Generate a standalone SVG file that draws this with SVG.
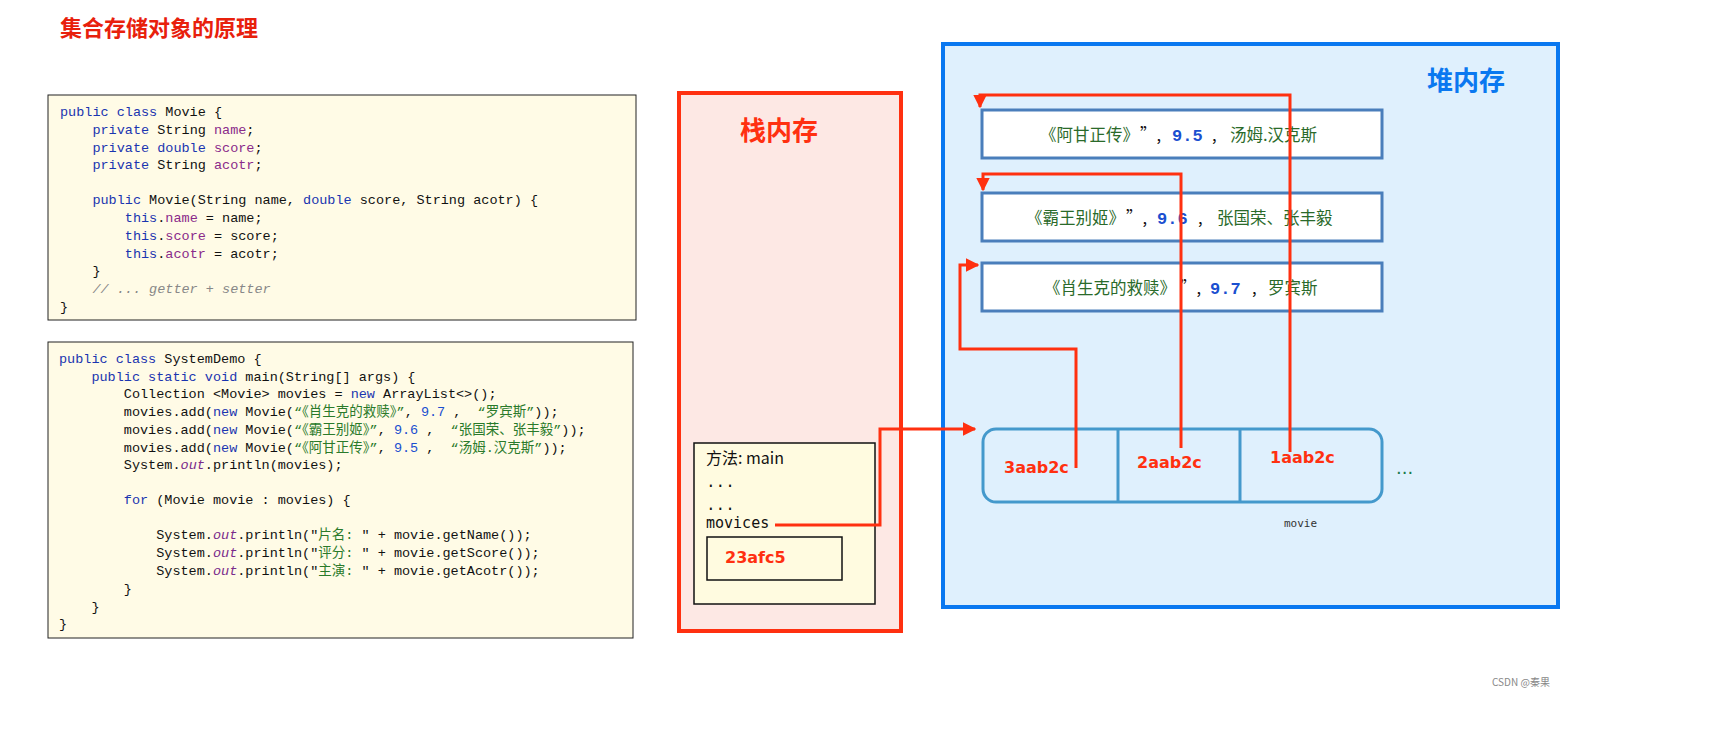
<svg xmlns="http://www.w3.org/2000/svg" width="1714" height="731" viewBox="0 0 1714 731">
<style>
.code{font-family:"Liberation Mono","Noto Sans CJK SC",monospace;font-size:13.5px;fill:#111;white-space:pre}
.k{fill:#1a35b0}.f{fill:#8a2a8a}.c{fill:#888;font-style:italic}.s{fill:#2a7a2a}.n{fill:#1a4fd0}.i{fill:#7a2a8a;font-style:italic}
.heap{fill:#fff;stroke:#4a7ebb;stroke-width:3}
.ht{font-family:"Noto Sans CJK SC",sans-serif;font-size:16.5px;fill:#2a6a2a}
.hn{font-family:"Liberation Mono",monospace;font-weight:bold;font-size:17px;fill:#1a4fd0}
.hp{fill:#111}
.addr{font-family:"DejaVu Sans",sans-serif;font-weight:bold;font-size:16px;fill:#ff3010}
.red{fill:none;stroke:#ff3010;stroke-width:3}
</style>
<defs><marker id="ah" viewBox="0 0 10 10" refX="9" refY="5" markerWidth="4.5" markerHeight="4.5" orient="auto"><path d="M0,0L10,5L0,10z" fill="#ff3010"/></marker></defs>
<rect width="1714" height="731" fill="#fff"/>
<text x="60" y="36" font-family="Noto Sans CJK SC,sans-serif" font-weight="bold" font-size="22" fill="#e8200c">集合存储对象的原理</text>
<g id="code1">
<rect x="48" y="95" width="588" height="225" fill="#fffbe6" stroke="#222" stroke-width="1"/>
<text class="code" x="60" y="116"><tspan class="k">public class</tspan> Movie {</text>
<text class="code" x="60" y="134">    <tspan class="k">private</tspan> String <tspan class="f">name</tspan>;</text>
<text class="code" x="60" y="152">    <tspan class="k">private double</tspan> <tspan class="f">score</tspan>;</text>
<text class="code" x="60" y="169">    <tspan class="k">private</tspan> String <tspan class="f">acotr</tspan>;</text>
<text class="code" x="60" y="204">    <tspan class="k">public</tspan> Movie(String name, <tspan class="k">double</tspan> score, String acotr) {</text>
<text class="code" x="60" y="222">        <tspan class="k">this</tspan>.<tspan class="f">name</tspan> = name;</text>
<text class="code" x="60" y="240">        <tspan class="k">this</tspan>.<tspan class="f">score</tspan> = score;</text>
<text class="code" x="60" y="258">        <tspan class="k">this</tspan>.<tspan class="f">acotr</tspan> = acotr;</text>
<text class="code" x="60" y="275">    }</text>
<text class="code c" x="60" y="293">    // ... getter + setter</text>
<text class="code" x="60" y="311">}</text>
</g>
<g id="code2">
<rect x="48" y="342" width="585" height="296" fill="#fffbe6" stroke="#222" stroke-width="1"/>
<text class="code" x="59" y="363"><tspan class="k">public class</tspan> SystemDemo {</text>
<text class="code" x="59" y="381">    <tspan class="k">public static void</tspan> main(String[] args) {</text>
<text class="code" x="59" y="398">        Collection &lt;Movie&gt; movies = <tspan class="k">new</tspan> ArrayList&lt;&gt;();</text>
<text class="code" x="59" y="416">        movies.add(<tspan class="k">new</tspan> Movie(<tspan class="s">“《肖生克的救赎》”</tspan>, <tspan class="n">9.7</tspan> ,  <tspan class="s">“罗宾斯”</tspan>));</text>
<text class="code" x="59" y="434">        movies.add(<tspan class="k">new</tspan> Movie(<tspan class="s">“《霸王别姬》”</tspan>, <tspan class="n">9.6</tspan> ,  <tspan class="s">“张国荣、张丰毅”</tspan>));</text>
<text class="code" x="59" y="452">        movies.add(<tspan class="k">new</tspan> Movie(<tspan class="s">“《阿甘正传》”</tspan>, <tspan class="n">9.5</tspan> ,  <tspan class="s">“汤姆.汉克斯”</tspan>));</text>
<text class="code" x="59" y="469">        System.<tspan class="i">out</tspan>.println(movies);</text>
<text class="code" x="59" y="504">        <tspan class="k">for</tspan> (Movie movie : movies) {</text>
<text class="code" x="59" y="539">            System.<tspan class="i">out</tspan>.println("<tspan class="s">片名:</tspan> " + movie.getName());</text>
<text class="code" x="59" y="557">            System.<tspan class="i">out</tspan>.println("<tspan class="s">评分:</tspan> " + movie.getScore());</text>
<text class="code" x="59" y="575">            System.<tspan class="i">out</tspan>.println("<tspan class="s">主演:</tspan> " + movie.getAcotr());</text>
<text class="code" x="59" y="593">        }</text>
<text class="code" x="59" y="611">    }</text>
<text class="code" x="59" y="628">}</text>
</g>
<g id="stack">
<rect x="679" y="93" width="222" height="538" fill="#fde8e4" stroke="#ff3010" stroke-width="4"/>
<text x="740" y="140" font-family="Noto Sans CJK SC,sans-serif" font-weight="bold" font-size="26" fill="#ff3010">栈内存</text>
<rect x="694" y="443" width="181" height="161" fill="#fffbe0" stroke="#111" stroke-width="1.5"/>
<text x="706" y="464" font-family="Noto Sans CJK SC,sans-serif" font-size="16" fill="#111">方法: main</text>
<text x="706" y="487" font-family="Liberation Mono,monospace" font-size="16" fill="#111">...</text>
<text x="706" y="510" font-family="Liberation Mono,monospace" font-size="16" fill="#111">...</text>
<text x="706" y="528" font-family="DejaVu Sans Mono,monospace" font-size="15" fill="#111">movices</text>
<rect x="707" y="537" width="135" height="43" fill="none" stroke="#111" stroke-width="1.5"/>
<text class="addr" x="725" y="563">23afc5</text>
</g>
<g id="heap">
<rect x="943" y="44" width="615" height="563" fill="#dff0fd" stroke="#0a78f0" stroke-width="4"/>
<text x="1427" y="90" font-family="Noto Sans CJK SC,sans-serif" font-weight="bold" font-size="26" fill="#0a78f0">堆内存</text>
<rect class="heap" x="982" y="110" width="400" height="48"/>
<text class="ht" y="141"><tspan x="1040">《阿甘正传》</tspan><tspan x="1140" class="hp">”,</tspan><tspan x="1172" class="hn">9.5</tspan><tspan x="1212" class="hp">,</tspan><tspan x="1230">汤姆.汉克斯</tspan></text>
<rect class="heap" x="982" y="193" width="400" height="48"/>
<text class="ht" y="224"><tspan x="1026">《霸王别姬》</tspan><tspan x="1126" class="hp">”,</tspan><tspan x="1157" class="hn">9.6</tspan><tspan x="1198" class="hp">,</tspan><tspan x="1217">张国荣、张丰毅</tspan></text>
<rect class="heap" x="982" y="263" width="400" height="48"/>
<text class="ht" y="294"><tspan x="1044">《肖生克的救赎》</tspan><tspan x="1180" class="hp">”,</tspan><tspan x="1210" class="hn">9.7</tspan><tspan x="1252" class="hp">,</tspan><tspan x="1268">罗宾斯</tspan></text>
</g>
<g id="array">
<rect x="983" y="429" width="399" height="73" rx="13" fill="#dff0fd" stroke="#4499cc" stroke-width="3"/>
<line x1="1118" y1="429" x2="1118" y2="502" stroke="#4499cc" stroke-width="3"/>
<line x1="1240" y1="429" x2="1240" y2="502" stroke="#4499cc" stroke-width="3"/>
<text class="addr" x="1004" y="473">3aab2c</text>
<text class="addr" x="1137" y="468">2aab2c</text>
<text class="addr" x="1270" y="463">1aab2c</text>
<text x="1396" y="474" font-family="DejaVu Sans,sans-serif" font-size="18" fill="#1a7a4a">...</text>
<text x="1284" y="527" font-family="DejaVu Sans Mono,monospace" font-size="11" fill="#333">movie</text>
</g>
<g id="connectors">
<path class="red" d="M775,525H880V429H975" marker-end="url(#ah)"/>
<path class="red" d="M1076,468V349H960V265H978" marker-end="url(#ah)"/>
<path class="red" d="M1181,448V174H983V190" marker-end="url(#ah)"/>
<path class="red" d="M1290,452V95H980V107" marker-end="url(#ah)"/>
</g>
<text x="1492" y="686" font-family="Noto Sans CJK SC,sans-serif" font-size="10" fill="#888">CSDN @秦果</text>
</svg>
